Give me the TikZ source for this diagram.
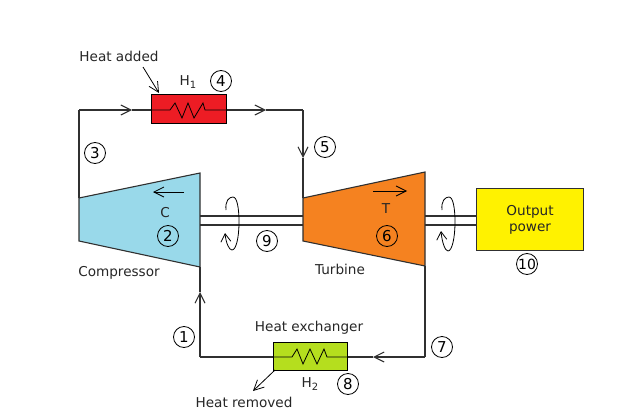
\documentclass[tikz,border=0pt]{standalone}
\usepackage{fontspec}
\setmainfont{DejaVu Sans}
\usetikzlibrary{arrows.meta}
\definecolor{heatred}{HTML}{ED1C24}
\definecolor{compblue}{HTML}{99D9EA}
\definecolor{turborange}{HTML}{F58220}
\definecolor{outyellow}{HTML}{FFF200}
\definecolor{coolgreen}{HTML}{B5DE1E}
\definecolor{linegrey}{HTML}{303030}
\tikzset{
  flow/.style={draw=linegrey,line width=1.1pt},
  barb/.style={flow,-{Straight Barb[length=10pt,width=10pt]}},
  thinbarb/.style={draw=black,line width=0.8pt,-{Straight Barb[length=10pt,width=10pt]}},
  spin/.style={draw=black,line width=0.8pt},
  box/.style={draw=black,line width=1.1pt,inner sep=0pt,anchor=north west},
  num/.style={circle,draw=black,line width=0.8pt,fill=none,minimum size=21pt,inner sep=0pt,font=\fontsize{15}{15}\selectfont},
  lab/.style={inner sep=0pt,text=black!85,font=\fontsize{13.6}{16}\selectfont,align=center},
  coil/.style={draw=black,line width=0.8pt,line join=miter}
}
\begin{document}
\begin{tikzpicture}[x=1pt,y=-1pt]
\useasboundingbox (0,0) rectangle (621,420);

% compressor and turbine
\coordinate (ctl) at (79,198);
\coordinate (ctr) at (200,173);
\coordinate (cbr) at (200,267);
\coordinate (cbl) at (79,241);
\coordinate (ttl) at (303,198);
\coordinate (ttr) at (425,172);
\coordinate (tbr) at (425,266);
\coordinate (tbl) at (303,241);
\filldraw[fill=compblue,draw=linegrey,line width=1.1pt] (ctl) -- (ctr) -- (cbr) -- (cbl) -- cycle;
\filldraw[fill=turborange,draw=linegrey,line width=1.1pt] (ttl) -- (ttr) -- (tbr) -- (tbl) -- cycle;

% boxes
\node[box,fill=heatred,minimum width=75pt,minimum height=29pt] (h1) at (151,94) {};
\node[box,fill=coolgreen,minimum width=74pt,minimum height=28pt] (h2) at (273,342) {};
\node[box,fill=outyellow,minimum width=107pt,minimum height=62pt,lab,draw=linegrey] (out) at (476,188) {Output\\power};

% shafts
\draw[flow] (200,216) -- (303,216);
\draw[flow] (200,225) -- (303,225);
\draw[flow] (425,216) -- (476,216);
\draw[flow] (425,225) -- (476,225);

% cycle lines
\coordinate (a3) at (132,110);
\coordinate (a4) at (266,110);
\coordinate (n5) at (303,110);
\coordinate (a5) at (303,158);
\coordinate (n3) at (79,110);
\coordinate (a1) at (200,292);
\coordinate (n1) at (200,357);
\coordinate (a7) at (373,357);
\coordinate (n7) at (425,357);
\draw[flow] (ctl) -- (n3);
\draw[barb] (n3) -- (a3);
\draw[flow] (a3) -- (h1.west |- a3);
\draw[barb] (h1.east |- a4) -- (a4);
\draw[flow] (a4) -- (n5);
\draw[barb] (n5) -- (a5);
\draw[flow] (a5) -- (ttl);
\draw[flow] (tbr) -- (n7);
\draw[barb] (n7) -- (a7);
\draw[flow] (a7) -- (h2.east |- a7);
\draw[flow] (h2.west |- n1) -- (n1);
\draw[barb] (n1) -- (a1);
\draw[flow] (a1) -- (cbr);

% heater coils
\draw[coil] (h1.west |- a3) -- (170,110) -- (175,103) -- (182,118) -- (188,103) -- (194,118) -- (203,103) -- (205,110) -- (h1.east |- a3);
\draw[coil] (h2.west |- n1) -- (292,357) -- (297,349) -- (303,364) -- (310,349) -- (317,364) -- (324,349) -- (327,357) -- (h2.east |- n1);

% heat in and out
\coordinate (qin) at (143,67);
\coordinate (qout) at (253,391);
\draw[thinbarb] (qin) -- (159,93);
\draw[thinbarb] (275,370) -- (qout);

% direction arrows
\coordinate (c0) at (184,192);
\coordinate (c1) at (153,192);
\coordinate (t0) at (373,191);
\coordinate (t1) at (407,191);
\draw[thinbarb] (c0) -- (c1);
\draw[thinbarb] (t0) -- (t1);

% rotation marks
\draw[spin,-{Straight Barb[length=8pt,width=10pt]}] (226,210) .. controls (225,201) and (229,197) .. (233,197)
  .. controls (237,197) and (239,208) .. (239,222) .. controls (239,238) and (236,250) .. (232,250)
  .. controls (229,250) and (226,243) .. (225,233);
\draw[spin,-{Straight Barb[length=8pt,width=10pt]}] (442,210) .. controls (441,201) and (445,197) .. (449,197)
  .. controls (453,197) and (455,208) .. (455,222) .. controls (455,238) and (452,251) .. (448,251)
  .. controls (445,251) and (442,242) .. (441,231);

% labels
\node[lab] (ladded) at (119,56) {Heat added};
\node[lab] (lh1) at (188,82) {H\raisebox{-3pt}{\fontsize{10}{10}\selectfont 1}};
\node[lab] (lc) at (165,213) {C};
\node[lab] (lcomp) at (119,273) {Compressor};
\node[lab] (lturb) at (340,269) {Turbine};
\node[lab] (lt) at (386,209) {T};
\node[lab] (lhx) at (309,328) {Heat exchanger};
\node[lab] (lh2) at (310,384) {H\raisebox{-3pt}{\fontsize{10}{10}\selectfont 2}};
\node[lab] (lrem) at (244,402) {Heat removed};

% numbers
\node[num] (n1c) at (184,337) {1};
\node[num] (n2c) at (168,236) {2};
\node[num] (n3c) at (95,153) {3};
\node[num] (n4c) at (221,81) {4};
\node[num] (n5c) at (325,147) {5};
\node[num] (n6c) at (387,236) {6};
\node[num] (n7c) at (442,347) {7};
\node[num] (n8c) at (348,384) {8};
\node[num] (n9c) at (267,241) {9};
\node[num,font=\fontsize{14}{14}\selectfont] (n10c) at (527,264) {10};
\end{tikzpicture}
\end{document}
